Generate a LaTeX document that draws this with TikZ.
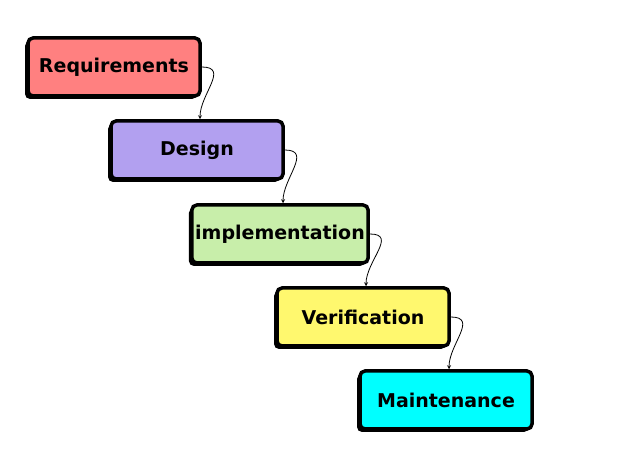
\documentclass[tikz,border=0pt]{standalone}
\usepackage{fontspec}
\setmainfont{DejaVu Sans}
\usetikzlibrary{shadows}
\begin{document}
\begin{tikzpicture}[x=1pt,y=1pt,
  phase/.style={draw=black, line width=3.5pt, rounded corners=5pt,
    minimum width=172pt, minimum height=58pt, font=\bfseries\fontsize{19}{22}\selectfont,
    drop shadow={shadow xshift=-3pt, shadow yshift=-3pt, fill=black, opacity=1}},
  flow/.style={->, >=stealth, thick}]
  \useasboundingbox (0,0) rectangle (618,449);

  % Phases
  \node[phase, fill={rgb,255:red,255;green,128;blue,128}] (req) at (114,382) {Requirements};
  \node[phase, fill={rgb,255:red,178;green,160;blue,240}] (des) at (197,299) {Design};
  \node[phase, fill={rgb,255:red,200;green,238;blue,170}] (imp) at (280,215) {implementation};
  \node[phase, fill={rgb,255:red,255;green,248;blue,110}] (ver) at (363,132) {Verification};
  \node[phase, fill={rgb,255:red,0;green,255;blue,255}] (mai) at (446,49) {Maintenance};

  % Fleches
  \draw[flow] (req.east) .. controls +(28,0) and +(0,25) .. ([xshift=3pt]des.north);
  \draw[flow] (des.east) .. controls +(28,0) and +(0,25) .. ([xshift=3pt]imp.north);
  \draw[flow] (imp.east) .. controls +(28,0) and +(0,25) .. ([xshift=3pt]ver.north);
  \draw[flow] (ver.east) .. controls +(28,0) and +(0,25) .. ([xshift=3pt]mai.north);
\end{tikzpicture}
\end{document}
